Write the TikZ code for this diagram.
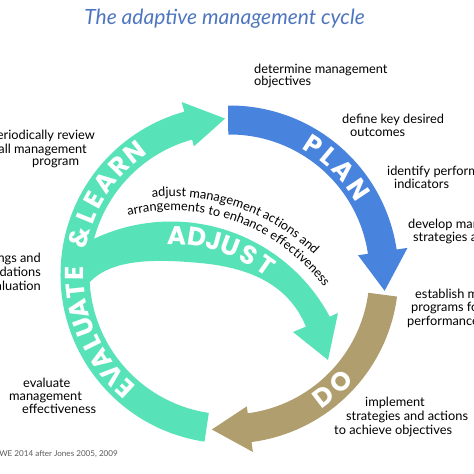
\documentclass[tikz,border=0pt]{standalone}
\usepackage{fontspec}
\setmainfont{Lato}
\newfontfamily\bandfont{Poppins}
\usetikzlibrary{calc,decorations.text}
\definecolor{tealc}{RGB}{88,226,183}
\definecolor{planc}{RGB}{72,131,222}
\definecolor{doc}{RGB}{176,158,110}
\definecolor{titlec}{RGB}{78,118,192}
\definecolor{creditc}{RGB}{90,90,90}
\newcommand{\ringarrow}[6]{%
  \fill[#1] ($(C)+(#2:169pt)$) arc[start angle=#2, end angle=#3, radius=169pt]
    -- ($(C)+(#3:#6pt)$) -- ($(C)+(#4:156pt)$) -- ($(C)+(#3:#5pt)$)
    -- ($(C)+(#3:140pt)$) arc[start angle=#3, end angle=#2, radius=140pt] -- cycle;}
\tikzset{
  lbl/.style={font=\fontsize{12.8}{14}\selectfont, inner sep=0pt, text=black},
  bandlbl/.style={font=\bandfont\bfseries\fontsize{26}{26}\selectfont, text=white, inner sep=0pt, anchor=base},
}
\begin{document}
\begin{tikzpicture}
\useasboundingbox (0,0) rectangle (474pt,474pt);
\clip (0,0) rectangle (474pt,474pt);
\coordinate (C) at (229.5pt,199.5pt);
\coordinate (T) at (171pt,72.5pt);

% title
\node[font=\itshape\fontsize{21}{24}\selectfont, text=titlec, anchor=base, inner sep=0pt] (title) at (224.5pt,449pt) {The adaptive management cycle};

% ring arrows
\ringarrow{tealc}{261.5}{105.5}{91.6}{133}{179}
\ringarrow{planc}{90.5}{8.5}{-6}{130}{180}
\ringarrow{doc}{-7.5}{-82.5}{-96.5}{133}{179}

% adjust arrow
\fill[tealc] ($(T)+(120:180pt)$) arc[start angle=120, end angle=28.1, radius=180pt]
  -- (338pt,161pt) -- (328pt,114pt) -- (293pt,142pt) -- (305.9pt,147.4pt)
  .. controls (290pt,186pt) and (255pt,206pt) .. (200pt,211pt)
  .. controls (160pt,214.6pt) and (115pt,216pt) .. (92pt,194pt)
  -- (82pt,184pt) -- (81pt,228.4pt) -- cycle;

% band labels
\foreach \ch/\ang [count=\i] in {E/227.5, V/220.5, A/213.5, L/206.5, U/200, A/193, T/186, E/179.5, \&/166, L/158, E/151, A/143.5, R/135.5, N/128}
  \node[bandlbl, rotate=\ang-90] (ev\i) at ($(C)+(\ang:145.5pt)$) {\ch};
\foreach \ch/\ang [count=\i] in {P/57, L/50, A/42.5, N/33.5}
  \node[bandlbl, rotate=\ang-90] (pl\i) at ($(C)+(\ang:145.5pt)$) {\ch};
\foreach \ch/\ang [count=\i] in {D/-52.5, O/-44}
  \node[bandlbl, rotate=\ang+90] (do\i) at ($(C)+(\ang:163.5pt)$) {\ch};
\foreach \ch/\ang [count=\i] in {A/88, D/81, J/75, U/69, S/62, T/55}
  \node[bandlbl, rotate=\ang-90] (ad\i) at ($(T)+(\ang:157pt)$) {\ch};

% curved text
\path[decorate, decoration={text along path, text align=left,
  text={|\fontsize{12.8}{14}\selectfont|adjust management actions and}}]
  ($(T)+(95.3:205pt)$) arc[start angle=95.3, end angle=10, radius=205pt];
\path[decorate, decoration={text along path, text align=left,
  text={|\fontsize{12.8}{14}\selectfont|arrangements to enhance effectiveness}}]
  ($(T)+(103:191pt)$) arc[start angle=103, end angle=5, radius=191pt];

% right labels
\node[lbl, anchor=base west] (l1) at (254pt,400pt) {determine management};
\node[lbl, anchor=base west] (l2) at (254pt,388pt) {objectives};
\node[lbl, anchor=base west] (l3) at (342pt,350pt) {define key desired};
\node[lbl, anchor=base west] (l4) at (350pt,337pt) {outcomes};
\node[lbl, anchor=base west] (l5) at (387pt,298pt) {identify performance};
\node[lbl, anchor=base west] (l6) at (394pt,285pt) {indicators};
\node[lbl, anchor=base west] (l7) at (408pt,245pt) {develop management};
\node[lbl, anchor=base west] (l8) at (413pt,232pt) {strategies and actions};
\node[lbl, anchor=base west] (l9) at (415pt,175pt) {establish monitoring};
\node[lbl, anchor=base west] (l10) at (411pt,162pt) {programs for};
\node[lbl, anchor=base west] (l11) at (407pt,148pt) {performance indicators};
\node[lbl, anchor=base west] (l12) at (365pt,67pt) {implement};
\node[lbl, anchor=base west] (l13) at (346pt,53pt) {strategies and actions};
\node[lbl, anchor=base west] (l14) at (334pt,39pt) {to achieve objectives};

% left labels
\node[lbl, anchor=base west] (l15) at (23pt,86pt) {evaluate};
\node[lbl, anchor=base west] (l16) at (9pt,73pt) {management};
\node[lbl, anchor=base west] (l17) at (22pt,60pt) {effectiveness};
\node[lbl, anchor=base east] (l18) at (95pt,334pt) {periodically review};
\node[lbl, anchor=base east] (l19) at (87pt,320pt) {overall management};
\node[lbl, anchor=base west] (l20) at (32pt,308pt) {program};
\node[lbl, anchor=base east] (l21) at (41pt,211pt) {share findings and};
\node[lbl, anchor=base east] (l22) at (41pt,197pt) {recommendations};
\node[lbl, anchor=base east] (l23) at (41pt,183pt) {from evaluation};

% credit
\node[font=\fontsize{8.1}{10}\selectfont, text=creditc, anchor=base east, inner sep=0pt] (credit) at (118pt,17pt) {DPIPWE 2014 after Jones 2005, 2009};
\end{tikzpicture}
\end{document}
